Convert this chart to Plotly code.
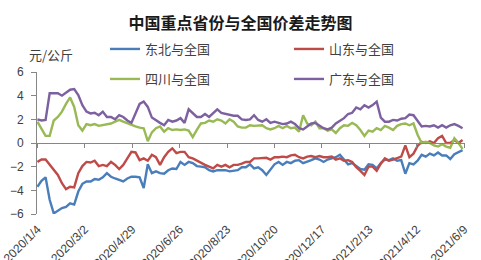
import pandas as pd
import plotly.graph_objects as go

title = "中国重点省份与全国价差走势图"
unit_label = "元/公斤"
series_names = ["东北与全国", "山东与全国", "四川与全国", "广东与全国"]
colors = ["#4A7EBB", "#BE4B48", "#98B954", "#7D60A0"]

# dates: every 5 days from 2020/1/4
dates = pd.date_range("2020-01-04", periods=105, freq="5D")

dongbei = [-3.7, -3.2, -2.9, -4.8, -5.95, -5.7, -5.5, -5.4, -5.1, -5.2,
           -4.1, -3.45, -3.25, -3.25, -3.05, -3.1, -2.9, -2.55, -2.85, -3.0,
           -3.1, -3.25, -3.0, -2.85, -2.85, -2.9, -3.8, -1.8, -2.55, -2.4,
           -2.55, -2.6, -2.3, -2.15, -2.2, -1.6, -1.85, -1.6, -1.7, -1.95,
           -2.0, -2.05, -2.3, -2.4, -2.3, -2.3, -2.3, -2.4, -2.35, -2.3,
           -2.05, -2.05, -1.8, -2.15, -2.05, -2.3, -2.7, -2.2, -1.8, -1.6,
           -1.85, -1.6, -1.7, -1.5, -1.45, -1.7, -1.6, -1.45, -1.3, -1.4,
           -1.6, -1.4, -1.3, -1.2, -1.0, -1.4, -1.8, -1.7, -1.95, -2.2,
           -2.25, -1.8, -1.85, -2.15, -1.7, -1.4, -1.45, -1.3, -1.5, -1.45,
           -2.6, -1.7, -1.8, -1.5, -1.0, -1.15, -0.9, -1.05, -0.8, -1.05,
           -1.05, -1.35, -0.95, -0.75, -0.6]

shandong = [-1.6, -1.4, -1.4, -1.85, -2.2, -2.7, -3.4, -3.9, -3.7, -3.75,
            -2.55, -1.95, -1.6, -1.65, -1.5, -1.95, -1.85, -1.95, -1.6, -1.85,
            -2.2, -1.85, -1.3, -0.75, -0.8, -1.45, -1.3, -1.5, -1.0, -1.2,
            -1.85, -1.2, -0.75, -0.45, -0.85, -0.75, -0.75, -1.2, -1.3, -1.5,
            -1.7, -1.85, -2.0, -2.15, -1.85, -2.0, -1.85, -2.05, -1.85, -1.85,
            -1.75, -1.6, -1.6, -1.3, -1.3, -1.3, -1.25, -1.4, -1.2, -1.2,
            -1.15, -1.2, -1.05, -1.0, -1.2, -1.3, -1.15, -1.1, -1.2, -1.1,
            -1.2, -1.2, -1.15, -1.4, -1.3, -1.5, -1.45, -1.6, -2.05, -2.35,
            -2.7, -2.0, -2.0, -2.35, -1.75, -1.3, -1.5, -1.4, -1.3, -1.15,
            -0.2, -1.2, -0.9, -0.25, 0.1, 0.0, 0.15, 0.0, 0.4, 0.6,
            0.0, 0.0, 0.25, 0.0, 0.25]

sichuan = [1.8, 1.25, 0.6, 0.6, 1.9, 2.2, 2.65, 3.3, 3.85, 3.05,
           1.5, 1.05, 1.6, 1.5, 1.6, 1.45, 1.5, 1.6, 1.65, 1.8,
           1.95, 1.8, 1.65, 1.5, 1.4, 1.3, 1.25, 0.15, 0.9, 1.25,
           1.4, 0.95, 1.25, 1.1, 1.15, 1.1, 1.15, 1.05, 0.5, 1.1,
           1.65, 1.7, 1.9, 1.8, 2.0, 1.9, 1.65, 2.0, 1.8, 1.4,
           1.3, 1.3, 1.5, 1.45, 1.5, 1.5, 1.25, 1.15, 1.25, 1.45,
           1.25, 1.45, 1.25, 1.3, 0.95, 2.35, 1.65, 1.5, 1.8, 1.25,
           1.25, 1.05, 1.15, 0.85, 1.25, 1.5, 1.45, 1.7, 1.5, 1.1,
           0.6, 1.05, 0.95, 1.25, 1.1, 1.45, 1.3, 1.1, 1.45, 1.6,
           1.65, 1.5, 1.65, 0.7, 0.0, 0.1, 0.0, -0.2, -0.3, -0.1,
           -0.3, -0.4, 0.4, 0.0, -0.5]

guangdong = [2.0, 1.9, 1.95, 4.2, 4.2, 4.2, 4.0, 4.25, 4.5, 4.55,
             4.05, 3.2, 2.65, 2.5, 2.55, 2.35, 2.65, 2.2, 2.2, 2.0,
             2.35, 2.2, 1.9, 1.7, 2.5, 3.3, 3.5, 3.05, 2.15, 1.9,
             1.7, 1.5, 1.95, 1.8, 1.9, 2.1, 1.7, 2.85, 2.55, 2.2,
             2.2, 2.45, 2.2, 2.5, 2.85, 2.55, 2.45, 2.4, 2.3, 2.3,
             2.0, 1.95, 2.0, 2.35, 1.95, 1.8, 2.0, 1.7, 1.8, 1.7,
             1.6, 1.65, 1.8, 1.6, 1.25, 1.15, 1.4, 1.65, 1.7, 1.5,
             1.25, 1.15, 1.3, 1.65, 1.9, 2.1, 2.45, 2.55, 3.0, 2.85,
             3.2, 3.0, 3.2, 3.5, 2.15, 1.8, 1.8, 1.95, 1.9, 2.05,
             2.1, 2.4, 2.35, 1.9, 1.4, 1.45, 1.4, 1.5, 1.3, 1.5,
             1.3, 1.5, 1.6, 1.45, 1.25]

tick_dates = pd.date_range("2020-01-04", periods=10, freq="58D")
y_ticks = [-6, -4, -2, 0, 2, 4, 6]

W, H = 481, 260
cjk = "Noto Sans CJK SC"
txt_color = "#404040"
axis_color = "#868686"

fig = go.Figure()
all_series = [dongbei, shandong, sichuan, guangdong]
legend_ids = ["legend", "legend2", "legend3", "legend4"]
legend_pos = [(105, 34), (289, 34), (105, 64), (289, 64)]  # pixel top-left of each legend
for name, vals, col, lg in zip(series_names, all_series, colors, legend_ids):
    fig.add_trace(go.Scatter(x=dates, y=vals, mode="lines", name=name,
                             line=dict(color=col, width=2.4), legend=lg))

# tick marks on the zero line (secondary x axis positioned at y=0)
fig.add_trace(go.Scatter(x=[tick_dates[0]], y=[None], xaxis="x2", showlegend=False,
                         hoverinfo="skip"))

xrange = ["2020-01-03 12:00", "2021-06-10 00:00"]
legend_layout = {}
for lg, (px, py) in zip(legend_ids, legend_pos):
    legend_layout[lg] = dict(xref="container", yref="container",
                             x=px / W, y=1 - py / H, xanchor="left", yanchor="top",
                             bgcolor="rgba(0,0,0,0)",
                             font=dict(family=cjk, size=13, color=txt_color))

fig.update_layout(
    width=W, height=H,
    margin=dict(l=37, r=16, t=72, b=46, autoexpand=False),
    paper_bgcolor="white", plot_bgcolor="white",
    title=dict(text="<b>" + title + "</b>", x=0.5, xref="container", xanchor="center",
               y=1 - 23 / H, yref="container", yanchor="middle",
               font=dict(family=cjk, size=16, color="#1a1a1a")),
    xaxis=dict(range=xrange, type="date", tickvals=list(tick_dates),
               tickformat="%Y/%-m/%-d", tickangle=-45, showgrid=False,
               showline=False, ticks="", zeroline=False, automargin=False,
               ticklabelstandoff=5,
               tickfont=dict(family="Liberation Sans", size=12, color=txt_color)),
    xaxis2=dict(range=xrange, type="date", overlaying="x", anchor="free", position=0.5,
                tickvals=list(tick_dates), showticklabels=False, ticks="outside",
                ticklen=4, tickcolor=axis_color, showline=True, linecolor=axis_color,
                linewidth=1, showgrid=False, zeroline=False),
    yaxis=dict(range=[-6, 6], tickvals=y_ticks, showgrid=False, zeroline=False,
               showline=True, linecolor=axis_color, linewidth=1, ticks="outside",
               ticklen=5, tickcolor=axis_color, automargin=False, ticklabelstandoff=5,
               tickfont=dict(family="Liberation Sans", size=12, color=txt_color)),
    annotations=[dict(text=unit_label, xref="paper", yref="paper", x=-10 / 428,
                      y=1 + 17 / 142, xanchor="left", yanchor="middle", showarrow=False,
                      font=dict(family=cjk, size=13, color=txt_color))],
    showlegend=True,
    **legend_layout,
)

fig.write_html("out.html")
